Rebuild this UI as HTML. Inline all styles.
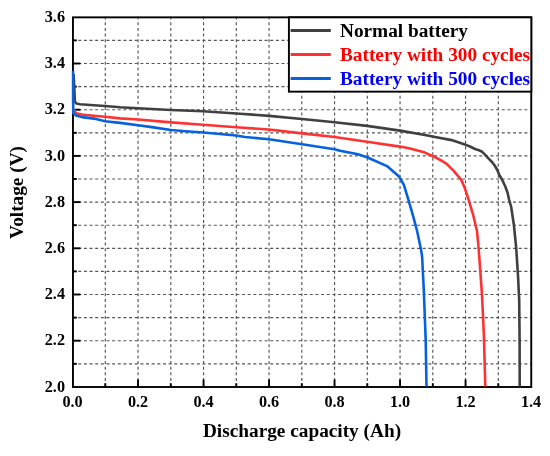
<!DOCTYPE html>
<html><head><meta charset="utf-8"><style>
html,body{margin:0;padding:0;background:#fff;}
svg{display:block;}
text{font-family:"Liberation Serif","Times New Roman",serif;font-weight:bold;}
</style></head><body>
<svg width="550" height="456" viewBox="0 0 550 456">
<rect x="0" y="0" width="550" height="456" fill="#fff"/>
<g stroke="#555" stroke-width="1.15" stroke-dasharray="3.0 2.647" fill="none">
<line x1="105.30" y1="16.6" x2="105.30" y2="387"/>
<line x1="138.05" y1="16.6" x2="138.05" y2="387"/>
<line x1="170.80" y1="16.6" x2="170.80" y2="387"/>
<line x1="203.55" y1="16.6" x2="203.55" y2="387"/>
<line x1="236.30" y1="16.6" x2="236.30" y2="387"/>
<line x1="269.05" y1="16.6" x2="269.05" y2="387"/>
<line x1="301.80" y1="16.6" x2="301.80" y2="387"/>
<line x1="334.55" y1="16.6" x2="334.55" y2="387"/>
<line x1="367.30" y1="16.6" x2="367.30" y2="387"/>
<line x1="400.05" y1="16.6" x2="400.05" y2="387"/>
<line x1="432.80" y1="16.6" x2="432.80" y2="387"/>
<line x1="465.55" y1="16.6" x2="465.55" y2="387"/>
<line x1="498.30" y1="16.6" x2="498.30" y2="387"/>
<line x1="72.6" y1="363.80" x2="531" y2="363.80"/>
<line x1="72.6" y1="340.70" x2="531" y2="340.70"/>
<line x1="72.6" y1="317.60" x2="531" y2="317.60"/>
<line x1="72.6" y1="294.50" x2="531" y2="294.50"/>
<line x1="72.6" y1="271.40" x2="531" y2="271.40"/>
<line x1="72.6" y1="248.30" x2="531" y2="248.30"/>
<line x1="72.6" y1="225.20" x2="531" y2="225.20"/>
<line x1="72.6" y1="202.10" x2="531" y2="202.10"/>
<line x1="72.6" y1="179.00" x2="531" y2="179.00"/>
<line x1="72.6" y1="155.90" x2="531" y2="155.90"/>
<line x1="72.6" y1="132.80" x2="531" y2="132.80"/>
<line x1="72.6" y1="109.70" x2="531" y2="109.70"/>
<line x1="72.6" y1="86.60" x2="531" y2="86.60"/>
<line x1="72.6" y1="63.50" x2="531" y2="63.50"/>
<line x1="72.6" y1="40.40" x2="531" y2="40.40"/>
</g>
<g stroke="#000" stroke-width="1.9" fill="none">
<line x1="105.30" y1="387" x2="105.30" y2="383.20"/>
<line x1="138.05" y1="387" x2="138.05" y2="379.50"/>
<line x1="170.80" y1="387" x2="170.80" y2="383.20"/>
<line x1="203.55" y1="387" x2="203.55" y2="379.50"/>
<line x1="236.30" y1="387" x2="236.30" y2="383.20"/>
<line x1="269.05" y1="387" x2="269.05" y2="379.50"/>
<line x1="301.80" y1="387" x2="301.80" y2="383.20"/>
<line x1="334.55" y1="387" x2="334.55" y2="379.50"/>
<line x1="367.30" y1="387" x2="367.30" y2="383.20"/>
<line x1="400.05" y1="387" x2="400.05" y2="379.50"/>
<line x1="432.80" y1="387" x2="432.80" y2="383.20"/>
<line x1="465.55" y1="387" x2="465.55" y2="379.50"/>
<line x1="498.30" y1="387" x2="498.30" y2="383.20"/>
<line x1="73" y1="363.80" x2="76.80" y2="363.80"/>
<line x1="73" y1="340.70" x2="80.50" y2="340.70"/>
<line x1="73" y1="317.60" x2="76.80" y2="317.60"/>
<line x1="73" y1="294.50" x2="80.50" y2="294.50"/>
<line x1="73" y1="271.40" x2="76.80" y2="271.40"/>
<line x1="73" y1="248.30" x2="80.50" y2="248.30"/>
<line x1="73" y1="225.20" x2="76.80" y2="225.20"/>
<line x1="73" y1="202.10" x2="80.50" y2="202.10"/>
<line x1="73" y1="179.00" x2="76.80" y2="179.00"/>
<line x1="73" y1="155.90" x2="80.50" y2="155.90"/>
<line x1="73" y1="132.80" x2="76.80" y2="132.80"/>
<line x1="73" y1="109.70" x2="80.50" y2="109.70"/>
<line x1="73" y1="86.60" x2="76.80" y2="86.60"/>
<line x1="73" y1="63.50" x2="80.50" y2="63.50"/>
<line x1="73" y1="40.40" x2="76.80" y2="40.40"/>
</g>

<rect x="72.95" y="17.35" width="458.3" height="369.65" fill="none" stroke="#000" stroke-width="1.9"/>
<g fill="none" stroke-width="2.6" stroke-linejoin="round" stroke-linecap="butt">
<polyline stroke="#404040" points="73.6,74.0 74.3,88.0 74.9,101.5 76.3,103.4 80.0,104.2 94.0,105.3 105.0,106.0 120.0,107.3 138.0,108.2 171.0,110.0 203.0,111.3 240.0,113.7 269.0,115.9 302.0,119.0 334.5,122.3 367.0,125.9 400.0,130.6 425.0,135.0 435.0,137.0 451.6,140.1 464.8,144.6 470.0,146.5 475.0,149.0 479.0,150.3 482.2,151.8 485.0,154.6 488.2,158.2 492.0,162.0 494.7,165.5 497.0,169.5 499.3,174.8 502.5,180.5 505.3,186.5 507.5,192.5 509.2,200.0 511.1,206.5 513.9,225.0 516.2,248.0 518.0,275.6 519.2,300.0 519.6,340.0 519.7,386.5"/>
<polyline stroke="#fe3232" points="74.2,109.2 74.9,111.8 77.0,113.5 82.0,114.5 86.0,115.0 94.0,115.7 105.0,116.7 120.0,118.4 138.0,119.5 171.0,122.4 203.0,124.7 240.0,127.5 269.0,129.5 302.0,133.4 334.5,137.0 367.0,141.8 400.0,146.6 410.0,148.6 425.0,152.6 435.0,157.2 443.0,161.5 446.6,163.8 453.2,170.4 461.1,179.6 464.3,186.8 468.3,198.7 473.2,215.2 477.0,231.0 478.6,248.0 480.4,272.4 482.0,295.0 483.9,335.0 485.3,386.5"/>
<polyline stroke="#0561dc" points="73.1,70.8 73.1,100.0 73.3,113.2 76.0,115.4 82.0,117.1 94.0,118.6 105.0,121.2 120.0,122.9 138.0,125.2 150.0,126.9 171.0,130.0 185.5,131.2 203.5,132.5 236.0,135.5 245.0,137.0 269.0,139.2 302.0,144.3 334.5,149.2 340.0,150.7 358.0,154.3 367.0,157.2 387.0,166.1 399.0,176.6 403.8,184.7 408.6,200.3 413.4,217.2 417.1,231.0 420.8,248.4 422.1,256.3 422.8,270.8 423.8,290.0 425.7,340.0 426.5,386.5"/>
</g>
<rect x="288.9" y="17.35" width="242.4" height="74.3" fill="#fff" stroke="#000" stroke-width="1.9"/>
<g stroke-width="3" fill="none">
<line x1="290.6" y1="30.4" x2="330.8" y2="30.4" stroke="#404040"/>
<line x1="290.6" y1="54.4" x2="330.8" y2="54.4" stroke="#fe3232"/>
<line x1="290.6" y1="78.4" x2="330.8" y2="78.4" stroke="#0561dc"/>
</g>
<g font-size="19.3">
<text x="340" y="37.2" fill="#000">Normal battery</text>
<text x="340" y="61.2" fill="#ff0000">Battery with 300 cycles</text>
<text x="340" y="85.1" fill="#0000f5">Battery with 500 cycles</text>
</g>
<g font-size="16.2" fill="#000">
<text x="72.55" y="406.8" text-anchor="middle">0.0</text>
<text x="138.05" y="406.8" text-anchor="middle">0.2</text>
<text x="203.55" y="406.8" text-anchor="middle">0.4</text>
<text x="269.05" y="406.8" text-anchor="middle">0.6</text>
<text x="334.55" y="406.8" text-anchor="middle">0.8</text>
<text x="400.05" y="406.8" text-anchor="middle">1.0</text>
<text x="465.55" y="406.8" text-anchor="middle">1.2</text>
<text x="531.05" y="406.8" text-anchor="middle">1.4</text>
<text x="65.0" y="391.50" text-anchor="end">2.0</text>
<text x="65.0" y="345.30" text-anchor="end">2.2</text>
<text x="65.0" y="299.10" text-anchor="end">2.4</text>
<text x="65.0" y="252.90" text-anchor="end">2.6</text>
<text x="65.0" y="206.70" text-anchor="end">2.8</text>
<text x="65.0" y="160.50" text-anchor="end">3.0</text>
<text x="65.0" y="114.30" text-anchor="end">3.2</text>
<text x="65.0" y="68.10" text-anchor="end">3.4</text>
<text x="65.0" y="21.90" text-anchor="end">3.6</text>
</g>
<text x="302" y="436.9" font-size="19.3" text-anchor="middle" fill="#000">Discharge capacity (Ah)</text>
<text transform="translate(23.2,192.5) rotate(-90)" x="0" y="0" font-size="19.3" text-anchor="middle" fill="#000">Voltage (V)</text>
</svg>
</body></html>
